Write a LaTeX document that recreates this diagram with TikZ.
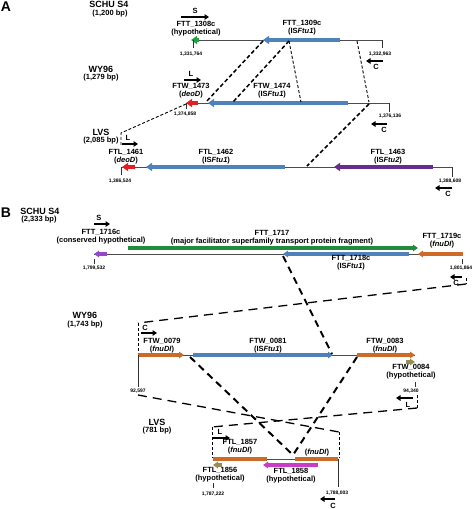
\documentclass[tikz,border=0pt]{standalone}
\usepackage{fontspec}
\setmainfont{Liberation Sans}
\usetikzlibrary{arrows.meta}

\definecolor{isblue}{RGB}{79,129,189}
\definecolor{deored}{RGB}{228,30,37}
\definecolor{hypgreen}{RGB}{40,160,70}
\definecolor{mfsgreen}{RGB}{32,140,60}
\definecolor{istwopurple}{RGB}{102,45,145}
\definecolor{hypviolet}{RGB}{150,70,200}
\definecolor{fnuorange}{RGB}{206,106,40}
\definecolor{hypmagenta}{RGB}{200,60,200}
\definecolor{hypkhaki}{RGB}{150,140,85}

\begin{document}
\begin{tikzpicture}[x=1pt, y=-1pt,
  panel/.style={font=\fontsize{14}{14}\selectfont\bfseries, inner sep=0pt},
  strain/.style={font=\fontsize{9}{10}\selectfont\bfseries, inner sep=0pt},
  bplen/.style={font=\fontsize{7.5}{8}\selectfont\bfseries, inner sep=0pt},
  lbl/.style={font=\fontsize{7.5}{8}\selectfont\bfseries, align=center, inner sep=0pt},
  bp/.style={font=\fontsize{5}{5.5}\selectfont\bfseries, inner sep=0pt},
  primerlbl/.style={font=\fontsize{7.5}{8}\selectfont\bfseries, inner sep=0pt},
  primer/.style={line width=1.8pt, -{Triangle[length=4.5pt,width=5.5pt]}},
  gene/.style={line width=4pt, -{Triangle[length=6pt,width=8pt]}},
  geneB/.style={line width=3.2pt, -{Triangle[length=5pt,width=6.5pt]}},
  chrom/.style={line width=0.8pt, black!70},
  tickline/.style={line width=0.8pt, black!80},
  linkthin/.style={line width=0.9pt, dash pattern=on 3pt off 2pt},
  linkthick/.style={line width=1.5pt, dash pattern=on 4pt off 2.5pt},
  linklong/.style={line width=1.3pt, dash pattern=on 9pt off 6pt},
  linkheavy/.style={line width=2pt, dash pattern=on 7pt off 5pt},
]
\useasboundingbox (0,0) rectangle (474,509);

%%%%%%%%%%%%%%%% Panel A %%%%%%%%%%%%%%%%
\node[panel] (pA) at (6,7) {A};

% SCHU S4
\node[strain] (schuA) at (109,4) {SCHU S4};
\node[bplen] (schuAlen) at (110,14) {(1,200 bp)};
\draw[chrom] (193,40) -- (382,40);
\draw[gene, hypgreen] (199,40) -- (191,40);
\draw[gene, isblue] (340,40) -- (263,40);
\draw[tickline] (193,40) -- (193,48);
\draw[tickline] (382,40) -- (382,48);
\node[bp] (schuAstart) at (191,54) {1,331,764};
\node[bp] (schuAend) at (380,54) {1,332,963};
\draw[primer] (181,17) -- (209,17);
\node[primerlbl] (schuAS) at (195,11) {S};
\draw[primer] (383,61) -- (366,61);
\node[primerlbl] (schuAC) at (376,67) {C};
\node[lbl] (ftt1308) at (196,29) {FTT\_1308c\\(hypothetical)};
\node[lbl] (ftt1309) at (302,28) {FTT\_1309c\\(IS\textit{Ftu1})};

% WY96
\node[strain] (wyA) at (101,69) {WY96};
\node[bplen] (wyAlen) at (101,78) {(1,279 bp)};
\draw[chrom] (186,103) -- (389,103);
\draw[gene, deored] (198,103) -- (186,103);
\draw[gene, isblue] (348,103) -- (208,103);
\draw[tickline] (186,103) -- (186,109);
\draw[tickline] (389,103) -- (389,112);
\node[bp] (wyAstart) at (185,114) {1,374,858};
\node[bp] (wyAend) at (390,116) {1,376,136};
\draw[primer] (184,80) -- (201,80);
\node[primerlbl] (wyAL) at (191,74) {L};
\draw[primer] (387,124) -- (371,124);
\node[primerlbl] (wyAC) at (384,130) {C};
\node[lbl] (ftw1473) at (191,91) {FTW\_1473\\(\textit{deoD})};
\node[lbl] (ftw1474) at (272,91) {FTW\_1474\\(IS\textit{Ftu1})};

% LVS
\node[strain] (lvsA) at (101,132) {LVS};
\node[bplen] (lvsAlen) at (101,141) {(2,085 bp)};
\draw[chrom] (122,167) -- (452,167);
\draw[gene, deored] (135,167) -- (122,167);
\draw[gene, isblue] (285,167) -- (146,167);
\draw[gene, istwopurple] (433,167) -- (334,167);
\draw[tickline] (121,167) -- (121,175);
\draw[tickline] (452,167) -- (452,177);
\node[bp] (lvsAstart) at (120,181) {1,386,524};
\node[bp] (lvsAend) at (450,181) {1,388,608};
\draw[primer] (122,144) -- (138,144);
\node[primerlbl] (lvsAL) at (128,138) {L};
\draw[primer] (452,188) -- (435,188);
\node[primerlbl] (lvsAC) at (448,194) {C};
\node[lbl] (ftl1461) at (126,157) {FTL\_1461\\(\textit{deoD})};
\node[lbl] (ftl1462) at (216,157) {FTL\_1462\\(IS\textit{Ftu1})};
\node[lbl] (ftl1463) at (388,157) {FTL\_1463\\(IS\textit{Ftu2})};

% homology links A
\coordinate (sA1) at (263,41);
\coordinate (sA2) at (289,41);
\coordinate (sA3) at (357,41);
\coordinate (wA1) at (206,102);
\coordinate (wA2) at (233,102);
\coordinate (wA3) at (301,102);
\coordinate (wA4) at (369,102);
\coordinate (wA5) at (369,104);
\coordinate (wA6) at (186,104);
\coordinate (lA1) at (307,166);
\coordinate (lA2) at (121,133);
\coordinate (lA3) at (121,146);
\draw[linkthick] (sA1) -- (wA1);
\draw[linkthick] (sA2) -- (wA2);
\draw[linkthin] (sA2) -- (wA3);
\draw[linkthin] (sA3) -- (wA4);
\draw[linkthick] (wA5) -- (lA1);
\draw[linkthin] (wA6) -- (lA2) -- (lA3);

%%%%%%%%%%%%%%%% Panel B %%%%%%%%%%%%%%%%
\node[panel] (pB) at (6,213) {B};

% SCHU S4
\node[strain] (schuB) at (40,211) {SCHU S4};
\node[bplen] (schuBlen) at (39,220) {(2,333 bp)};
\draw[chrom] (94,254) -- (463,254);
\draw[geneB, hypviolet] (107,254) -- (94,254);
\draw[geneB, mfsgreen] (128,248) -- (418,248);
\draw[geneB, isblue] (409,254) -- (283,254);
\draw[geneB, fnuorange] (463,254) -- (418,254);
\draw[tickline] (94,259) -- (94,264);
\draw[tickline] (462,259) -- (462,264);
\node[bp] (schuBstart) at (94,268) {1,799,532};
\node[bp] (schuBend) at (461,268) {1,801,864};
\draw[primer] (94,224) -- (110,224);
\node[primerlbl] (schuBS) at (99,218) {S};
\draw[primer] (462,277) -- (450,277);
\node[primerlbl] (schuBC) at (456,283) {C};
\node[lbl] (ftt1716) at (101,237) {FTT\_1716c\\(conserved hypothetical)};
\node[lbl] (ftt1717) at (272,238) {FTT\_1717\\(major facilitator superfamily transport protein fragment)};
\node[lbl] (ftt1719) at (442,241) {FTT\_1719c\\(\textit{fnuDI})};
\node[lbl] (ftt1718) at (351,263) {FTT\_1718c\\(IS\textit{Ftu1})};

% WY96
\node[strain] (wyB) at (85,315) {WY96};
\node[bplen] (wyBlen) at (85,325) {(1,743 bp)};
\draw[chrom] (138,355) -- (415,355);
\draw[geneB, fnuorange] (138,355) -- (184,355);
\draw[geneB, isblue] (193,355) -- (333,355);
\draw[geneB, fnuorange] (357,355) -- (415,355);
\draw[geneB, hypkhaki] (406,362) -- (415,362);
\draw[tickline] (138,355) -- (138,387);
\draw[tickline] (415,382) -- (415,387);
\node[bp] (wyBstart) at (138,391) {92,597};
\node[bp] (wyBend) at (411,391) {94,340};
\draw[primer] (141,333) -- (157,333);
\node[primerlbl] (wyBC) at (145,328) {C};
\draw[primer] (413,398) -- (396,398);
\node[primerlbl] (wyBL) at (408,405) {L};
\node[lbl] (ftw0079) at (162,346) {FTW\_0079\\(\textit{fnuDI})};
\node[lbl] (ftw0081) at (268,346) {FTW\_0081\\(IS\textit{Ftu1})};
\node[lbl] (ftw0083) at (385,346) {FTW\_0083\\(\textit{fnuDI})};
\node[lbl] (ftw0084) at (411,372) {FTW\_0084\\(hypothetical)};

% LVS
\node[strain] (lvsB) at (157,422) {LVS};
\node[bplen] (lvsBlen) at (157,431) {(781 bp)};
\draw[chrom] (213,459) -- (338,459);
\draw[geneB, fnuorange, -] (213,459) -- (267,459);
\draw[geneB, fnuorange, -] (295,459) -- (338,459);
\draw[geneB, hypmagenta] (318,465) -- (263,465);
\draw[geneB, hypkhaki] (222,465) -- (213,465);
\draw[tickline] (213,483) -- (213,488);
\draw[tickline] (338,459) -- (338,487);
\node[bp] (lvsBstart) at (213,494) {1,787,222};
\node[bp] (lvsBend) at (337,493) {1,788,003};
\draw[primer] (213,438) -- (230,438);
\node[primerlbl] (lvsBL) at (220,432) {L};
\draw[primer] (335,499) -- (320,499);
\node[primerlbl] (lvsBC) at (333,506) {C};
\node[lbl] (ftl1857) at (240,447) {FTL\_1857\\(\textit{fnuDI})};
\node[lbl] (ftl1857b) at (317,453) {(\textit{fnuDI})};
\node[lbl] (ftl1856) at (220,475) {FTL\_1856\\(hypothetical)};
\node[lbl] (ftl1858) at (291,476) {FTL\_1858\\(hypothetical)};

% homology links B
\coordinate (sB1) at (283,256);
\coordinate (sB2) at (466,278);
\coordinate (sB3) at (466,284);
\coordinate (wB1) at (332,354);
\coordinate (wB2) at (138,323);
\coordinate (wB3) at (138,353);
\coordinate (wB4) at (190,357);
\coordinate (wB5) at (357,357);
\coordinate (wB6) at (138,395);
\coordinate (wB7) at (417,395);
\coordinate (wB8) at (417,408);
\coordinate (lB1) at (293,455);
\coordinate (lB2) at (339,432);
\coordinate (lB3) at (339,458);
\coordinate (lB4) at (212,427);
\coordinate (lB5) at (212,458);
\draw[linkheavy] (sB1) -- (wB1);
\draw[linkthin] (sB2) -- (sB3);
\draw[linklong] (sB3) -- (wB2);
\draw[linkthin] (wB2) -- (wB3);
\draw[linkheavy] (wB4) -- (lB1);
\draw[linkheavy] (wB5) -- (lB1);
\draw[linklong] (wB6) -- (lB2);
\draw[linkthin] (lB2) -- (lB3);
\draw[linkthin] (wB7) -- (wB8);
\draw[linklong] (wB8) -- (lB4);
\draw[linkthin] (lB4) -- (lB5);

\end{tikzpicture}
\end{document}
